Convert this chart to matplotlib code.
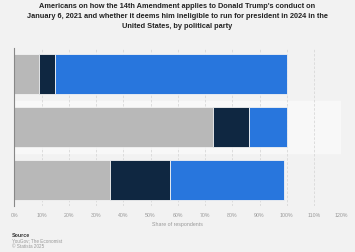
import matplotlib.pyplot as plt
import numpy as np

plt.rcParams['font.family'] = ['Liberation Sans', 'DejaVu Sans']

categories = ["Democrat", "Republican", "Independent"]
series_names = ["Not sure", "No", "Yes"]
not_sure = [9, 73, 35]
no = [6, 13, 22]
yes = [85, 14, 42]
tick_values = list(range(0, 121, 10))

colors = ["#b8b8b8", "#0f2741", "#2876dd"]

fig = plt.figure(figsize=(3.55, 2.53), dpi=100)
fig.patch.set_facecolor("#f2f2f2")
ax = fig.add_axes([0.0403, 0.182, 0.9211, 0.624])
ax.set_facecolor("#f2f2f2")

y = np.arange(len(categories))
left = np.zeros(len(categories))
for vals, name, c in zip([not_sure, no, yes], series_names, colors):
    ax.barh(y, vals, left=left, height=0.76, color=c, edgecolor="#f2f2f2",
            linewidth=0.6, label=name, zorder=3)
    left += np.array(vals)

# hover highlight on the middle row
ax.axhspan(0.5, 1.5, color="#f8f8f8", zorder=0)

ax.set_xlim(0, 120)
ax.set_ylim(2.5, -0.5)
ax.set_xticks(tick_values)
ax.set_xticklabels([f"{v}%" for v in tick_values], fontsize=3.8, color="#999999")
ax.set_yticks([])
ax.tick_params(axis="x", length=0, pad=4)
ax.grid(axis="x", color="#d8d8d8", linestyle=(0, (3, 2)), linewidth=0.6, zorder=1)
for s in ["top", "right", "bottom"]:
    ax.spines[s].set_visible(False)
ax.spines["left"].set_color("#888888")
ax.spines["left"].set_linewidth(0.8)
ax.spines["left"].set_zorder(4)
ax.set_xlabel("Share of respondents", fontsize=3.8, color="#999999", labelpad=3)

fig.text(0.5, 0.987,
         "Americans on how the 14th Amendment applies to Donald Trump's conduct on\n"
         "January 6, 2021 and whether it deems him ineligible to run for president in 2024 in the\n"
         "United States, by political party",
         ha="center", va="top", fontsize=5.3, fontweight="bold", color="#222222",
         linespacing=1.6)

fig.text(0.034, 0.07, "Source", fontsize=3.8, fontweight="bold", color="#333333", va="center")
fig.text(0.034, 0.047, "YouGov; The Economist", fontsize=3.3, color="#999999", va="center")
fig.text(0.034, 0.024, "© Statista 2025", fontsize=3.3, color="#999999", va="center")

fig.savefig("out.png", dpi=100, facecolor=fig.get_facecolor())
